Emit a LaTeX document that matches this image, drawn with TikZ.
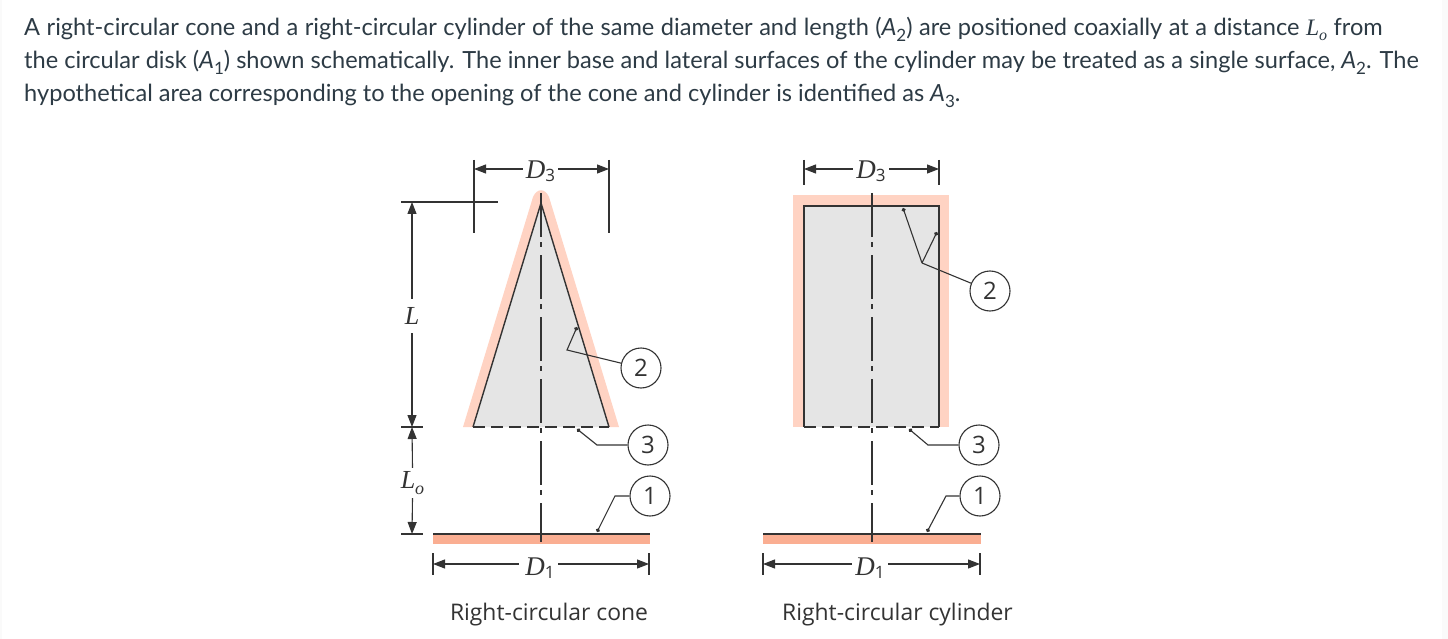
\documentclass[tikz,border=0pt]{standalone}
\usepackage{fontspec}
\setmainfont{Lato}
\newfontfamily\serifit[ItalicFont=Liberation Serif Italic]{Liberation Serif}
\newfontfamily\capfont{Open Sans}
\usetikzlibrary{arrows.meta}
\definecolor{peachL}{HTML}{FFD3C3}
\definecolor{peachD}{HTML}{FAAE92}
\definecolor{grayF}{HTML}{E5E5E5}
\definecolor{ink}{HTML}{333333}
\definecolor{bodytxt}{HTML}{2D3B45}
\definecolor{edgeF}{HTML}{FAFAFA}
\newcommand{\sbs}[1]{\raisebox{-0.22em}{\fontsize{17}{17}\selectfont #1}}
\newcommand{\ars}[1]{\textit{A}\sbs{#1}}
\newcommand{\dsym}[1]{{\fontsize{27}{27}\selectfont\serifit\itshape D}\raisebox{-0.28em}{\fontsize{17}{17}\selectfont\capfont #1}}
\tikzset{
 x=1pt,y=-1pt,
 body/.style={anchor=base west,inner sep=0pt,text=bodytxt,font=\fontsize{23.6}{28}\selectfont},
 caption/.style={anchor=base,inner sep=0pt,text=ink,font=\capfont\fontsize{22.9}{26}\selectfont},
 dimlab/.style={inner sep=0pt,text=ink},
 dimline/.style={draw=ink,line width=1.1pt,-{Triangle[length=12pt,width=9pt]}},
 thin1/.style={draw=ink,line width=1.1pt},
 outline/.style={draw=ink,line width=1.4pt},
 axisline/.style={draw=ink,line width=1.1pt,dash pattern=on 44pt off 5pt on 5pt off 8pt},
 openline/.style={draw=ink,line width=1.4pt,dash pattern=on 12pt off 6pt},
 callnum/.style={circle,draw=ink,line width=1.1pt,fill=white,minimum size=40pt,inner sep=0pt,text=ink,font=\capfont\fontsize{24}{24}\selectfont},
 leader/.style={draw=ink,line width=1.1pt},
 leaderdot/.style={draw=ink,line width=1.1pt,-{Circle[length=4pt]}},
}
\begin{document}
\begin{tikzpicture}
\useasboundingbox (0,0) rectangle (1448,639);
\fill[white] (0,0) rectangle (1448,639);
\fill[edgeF] (0,0) rectangle (2,639);
\fill[edgeF] (1442,0) rectangle (1448,639);
\node[body] (t1) at (24,36) {\spaceskip=6.5pt A right-circular cone and a right-circular cylinder of the same diameter and length (\ars{2}) are positioned coaxially at a distance {\serifit\itshape L\raisebox{-0.2em}{\fontsize{16}{16}\selectfont o}} from};
\node[body] (t2) at (24,69) {the circular disk (\ars{1}) shown schematically. The inner base and lateral surfaces of the cylinder may be treated as a single surface, \ars{2}. The};
\node[body] (t3) at (24,102) {hypothetical area corresponding to the opening of the cone and cylinder is identified as \ars{3}.};

% ---- cone
\fill[peachL] (463,427) -- (533,197) .. controls (537,188) and (545,188) .. (549,197) -- (619,427) -- (609,427) -- (541,203) -- (473,427) -- cycle;
\fill[grayF] (541,203) -- (609,427) -- (473,427) -- cycle;
\draw[outline] (473,427) -- (541,203) -- (609,427);
\draw[openline] (473,427) -- (609,427);
\coordinate (cAxT) at (541,193);
\coordinate (cAxB) at (541,542);
\fill[peachD] (433,534) rectangle (650,544);
\draw[outline] (433,534) -- (650,534);
\draw[axisline] (cAxT) -- (cAxB);
% D3
\coordinate (cD3l) at (474,169); \coordinate (cD3r) at (609,169);
\node[dimlab,minimum width=35pt] (cD3) at (540.5,171.5) {\dsym{3}};
\draw[thin1] (474,160) -- (474,233);
\draw[thin1] (609,160) -- (609,233);
\draw[dimline] (cD3.west|-cD3l) -- (cD3l);
\draw[dimline] (cD3.east|-cD3r) -- (cD3r);
% L
\coordinate (Ltop) at (412,202); \coordinate (Lbot) at (412,427); \coordinate (Lobot) at (412,534);
\draw[thin1] (401,202) -- (498,202);
\draw[thin1] (401,427) -- (423,427);
\draw[thin1] (401,534) -- (423,534);
\node[dimlab,minimum height=34pt,font=\fontsize{26}{26}\selectfont\serifit\itshape] (Ll) at (412,316) {L};
\draw[dimline] (Ll.north) -- (Ltop);
\draw[dimline] (Ll.south) -- (Lbot);
\node[dimlab,minimum height=30pt,font=\fontsize{26}{26}\selectfont\serifit\itshape] (Lo) at (412.5,483) {L\raisebox{-0.25em}{\fontsize{18}{18}\selectfont o}};
\draw[dimline] (Lo.north) -- (Lbot);
\draw[dimline] (Lo.south) -- (Lobot);
% D1
\coordinate (cD1l) at (433,564); \coordinate (cD1r) at (649,564);
\draw[thin1] (433,553) -- (433,575);
\draw[thin1] (649,553) -- (649,575);
\node[dimlab,minimum width=39pt] (cD1) at (538.5,568.5) {\hspace*{3pt}\dsym{1}};
\draw[dimline] (cD1.west|-cD1l) -- (cD1l);
\draw[dimline] (cD1.east|-cD1r) -- (cD1r);
% callouts
\node[callnum] (c2) at (641,368) {2};
\node[callnum] (c3) at (648,445) {3};
\node[callnum] (c1) at (650,496) {1};
\coordinate (c2j) at (567,350); \coordinate (c2e) at (577,327);
\coordinate (c3j) at (597,445); \coordinate (c3e) at (577,429);
\coordinate (c1j) at (615,496); \coordinate (c1e) at (597,532);
\draw[leaderdot] (c2) -- (c2j) -- (c2e);
\draw[leaderdot] (c3) -- (c3j) -- (c3e);
\draw[leaderdot] (c1) -- (c1j) -- (c1e);
\node[caption] (capA) at (549,620) {Right-circular cone};

% ---- cylinder
\fill[peachL] (793,195) rectangle (949,427);
\fill[grayF] (804,206) rectangle (939,427);
\draw[outline] (804,427) -- (804,206) -- (939,206) -- (939,427);
\draw[openline] (804,427) -- (939,427);
\fill[peachD] (763,534) rectangle (981,544);
\draw[outline] (763,534) -- (981,534);
\coordinate (yAxT) at (872,193);
\coordinate (yAxB) at (872,542);
\draw[axisline] (yAxT) -- (yAxB);
% D3
\coordinate (yD3l) at (804,169); \coordinate (yD3r) at (939,169);
\draw[thin1] (804,160) -- (804,185);
\draw[thin1] (939,160) -- (939,185);
\node[dimlab,minimum width=36pt] (yD3) at (871,171.5) {\dsym{3}};
\draw[dimline] (yD3.west|-yD3l) -- (yD3l);
\draw[dimline] (yD3.east|-yD3r) -- (yD3r);
% D1
\coordinate (yD1l) at (763,564); \coordinate (yD1r) at (980,564);
\draw[thin1] (763,553) -- (763,575);
\draw[thin1] (980,553) -- (980,575);
\node[dimlab,minimum width=36pt] (yD1) at (870,568.5) {\dsym{1}};
\draw[dimline] (yD1.west|-yD1l) -- (yD1l);
\draw[dimline] (yD1.east|-yD1r) -- (yD1r);
% callouts
\node[callnum] (y2) at (990,291) {2};
\node[callnum] (y3) at (979,445) {3};
\node[callnum] (y1) at (980,496) {1};
\coordinate (y2j) at (922,263); \coordinate (y2a) at (903,208); \coordinate (y2b) at (937,232);
\coordinate (y3j) at (928,445); \coordinate (y3e) at (909,429);
\coordinate (y1j) at (946,496); \coordinate (y1e) at (927,532);
\draw[leader] (y2) -- (y2j);
\draw[leaderdot] (y2j) -- (y2a);
\draw[leaderdot] (y2j) -- (y2b);
\draw[leaderdot] (y3) -- (y3j) -- (y3e);
\draw[leaderdot] (y1) -- (y1j) -- (y1e);
\node[caption] (capB) at (897.5,620) {Right-circular cylinder};
\end{tikzpicture}
\end{document}
